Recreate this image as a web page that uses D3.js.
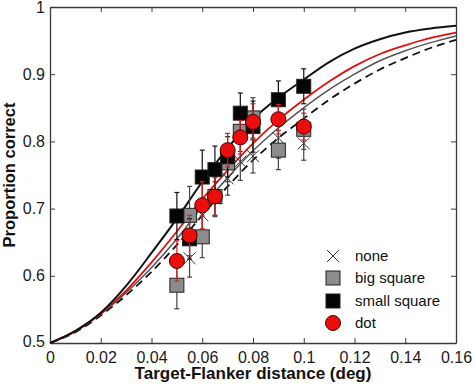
<!DOCTYPE html>
<html>
<head>
<meta charset="utf-8">
<script src="https://d3js.org/d3.v7.min.js"></script>
<style>
    body { margin: 0; background: #fff; }
    svg text { font-family: "Liberation Sans", Arial, sans-serif; }
    .tick text { font-size: 16px; fill: #1a1a1a; }
    .axtitle { font-size: 17px; font-weight: bold; fill: #111; }
    .legtext { font-size: 15px; fill: #111; }
</style>
</head>
<body>
<svg id="chart" width="474" height="387"></svg>
<script>
// distances (deg) where data were taken
var dist = [0.05, 0.055, 0.06, 0.065, 0.07, 0.075, 0.08, 0.09, 0.1];

// proportion correct per flanker type
var noneVals   = [null, 0.626, 0.690, 0.715, 0.745, 0.770, 0.778, 0.805, 0.797];
var bigVals    = [0.586, 0.690, 0.658, 0.718, 0.768, 0.815, 0.835, 0.787, 0.818];
var smallVals  = [0.689, 0.655, 0.747, 0.758, 0.777, 0.842, 0.822, 0.862, 0.882];
var dotVals    = [0.622, 0.660, 0.705, 0.718, 0.787, 0.806, 0.829, 0.833, 0.822];

// error bar half-lengths
var noneErr  = [0, 0.028, 0.025, 0.025, 0.025, 0.028, 0.025, 0.03, 0.025];
var bigErr   = [0.035, 0.043, 0.031, 0.03, 0.028, 0.03, 0.03, 0.029, 0.03];
var smallErr = [0.035, 0.03, 0.04, 0.035, 0.03, 0.03, 0.038, 0.028, 0.026];
var dotErr   = [0.03, 0.03, 0.035, 0.028, 0.025, 0.025, 0.027, 0.022, 0.02];

// fitted curves, sampled off the figure
var curveX     = [0, 0.01, 0.02, 0.03, 0.04, 0.05, 0.06, 0.07, 0.08, 0.09, 0.1, 0.11, 0.12, 0.13, 0.14, 0.15, 0.16];
var smallFit   = [0.5, 0.518, 0.545, 0.585, 0.634, 0.685, 0.740, 0.790, 0.833, 0.865, 0.892, 0.918, 0.938, 0.952, 0.962, 0.968, 0.972];
var dotFit     = [0.5, 0.518, 0.544, 0.578, 0.620, 0.666, 0.714, 0.757, 0.797, 0.832, 0.862, 0.889, 0.912, 0.930, 0.943, 0.954, 0.962];
var bigFit     = [0.5, 0.517, 0.543, 0.575, 0.612, 0.655, 0.703, 0.746, 0.786, 0.820, 0.850, 0.877, 0.900, 0.920, 0.935, 0.947, 0.957];
var noneFit    = [0.5, 0.516, 0.541, 0.571, 0.606, 0.646, 0.690, 0.733, 0.772, 0.805, 0.834, 0.862, 0.886, 0.907, 0.924, 0.939, 0.951];

var xTicks = [0, 0.02, 0.04, 0.06, 0.08, 0.1, 0.12, 0.14, 0.16];
var yTicks = [0.5, 0.6, 0.7, 0.8, 0.9, 1];
var legendLabels = ["none", "big square", "small square", "dot"];

var svg = d3.select("#chart");
var plotL = 50, plotR = 456, plotT = 7, plotB = 343;

var x = d3.scaleLinear().domain([0, 0.16]).range([plotL, plotR]);
var y = d3.scaleLinear().domain([0.5, 1]).range([plotB, plotT]);

var fmt = function(d) { return d === 0 ? "0" : d === 1 ? "1" : String(d); };
var axisCol = "#3a3a3a";

// axes with inward ticks
var gx = svg.append("g").attr("transform", "translate(0," + plotB + ")")
    .call(d3.axisBottom(x).tickValues(xTicks).tickSizeInner(-5).tickSizeOuter(0).tickPadding(8).tickFormat(fmt));
var gxt = svg.append("g").attr("transform", "translate(0," + plotT + ")")
    .call(d3.axisTop(x).tickValues(xTicks).tickSizeInner(-5).tickSizeOuter(0).tickFormat(""));
var gy = svg.append("g").attr("transform", "translate(" + plotL + ",0)")
    .call(d3.axisLeft(y).tickValues(yTicks).tickSizeInner(-5).tickSizeOuter(0).tickPadding(5).tickFormat(fmt));
var gyr = svg.append("g").attr("transform", "translate(" + plotR + ",0)")
    .call(d3.axisRight(y).tickValues(yTicks).tickSizeInner(-5).tickSizeOuter(0).tickFormat(""));
[gx, gxt, gy, gyr].forEach(function(g) {
    g.select(".domain").attr("stroke", axisCol).attr("stroke-width", 1.3);
    g.selectAll(".tick line").attr("stroke", axisCol);
});
gy.selectAll(".tick text").filter(function(d) { return d === 0.5; }).attr("dy", "0.2em");
gx.selectAll(".tick text").attr("dy", "0.72em");

// fitted curves
var line = d3.line().x(function(d) { return x(d[0]); }).y(function(d) { return y(d[1]); }).curve(d3.curveMonotoneX);
function fit(vals) { return curveX.map(function(v, i) { return [v, vals[i]]; }); }
var plot = svg.append("g");
plot.append("path").attr("d", line(fit(noneFit))).attr("fill", "none").attr("stroke", "#111").attr("stroke-width", 1.8).attr("stroke-dasharray", "8,5");
plot.append("path").attr("d", line(fit(bigFit))).attr("fill", "none").attr("stroke", "#555").attr("stroke-width", 1.5);
plot.append("path").attr("d", line(fit(dotFit))).attr("fill", "none").attr("stroke", "#e01010").attr("stroke-width", 1.8);
plot.append("path").attr("d", line(fit(smallFit))).attr("fill", "none").attr("stroke", "#111").attr("stroke-width", 2);

function errBars(vals, errs, col) {
    var data = dist.map(function(d, i) { return { x: d, v: vals[i], e: errs[i] }; }).filter(function(d) { return d.v != null; });
    var g = plot.append("g").attr("stroke", col).attr("stroke-width", 1.2);
    g.selectAll("line.v").data(data).enter().append("line")
        .attr("x1", function(d) { return x(d.x); }).attr("x2", function(d) { return x(d.x); })
        .attr("y1", function(d) { return y(d.v - d.e); }).attr("y2", function(d) { return y(d.v + d.e); });
    [-1, 1].forEach(function(s) {
        g.selectAll("line.c" + s).data(data).enter().append("line")
            .attr("x1", function(d) { return x(d.x) - 2.5; }).attr("x2", function(d) { return x(d.x) + 2.5; })
            .attr("y1", function(d) { return y(d.v + s * d.e); }).attr("y2", function(d) { return y(d.v + s * d.e); });
    });
    return data;
}

function cross(g, cx, cy, r) {
    g.append("path").attr("d", "M" + (cx - r) + "," + (cy - r) + "L" + (cx + r) + "," + (cy + r) + "M" + (cx - r) + "," + (cy + r) + "L" + (cx + r) + "," + (cy - r))
        .attr("stroke", "#333").attr("stroke-width", 1).attr("fill", "none");
}
function square(g, cx, cy, fill) {
    g.append("rect").attr("x", cx - 7).attr("y", cy - 7).attr("width", 14).attr("height", 14)
        .attr("fill", fill).attr("stroke", "#222").attr("stroke-width", 1);
}
function dot(g, cx, cy) {
    g.append("circle").attr("cx", cx).attr("cy", cy).attr("r", 7.5)
        .attr("fill", "#ee0d0d").attr("stroke", "#400").attr("stroke-width", 1);
}

var noneData = errBars(noneVals, noneErr, "#444");
var gN = plot.append("g");
noneData.forEach(function(d) { cross(gN, x(d.x), y(d.v), 6); });

var bigData = errBars(bigVals, bigErr, "#444");
var gB = plot.append("g");
bigData.forEach(function(d) { square(gB, x(d.x), y(d.v), "#8c8c8c"); });

var smallData = errBars(smallVals, smallErr, "#111");
var gS = plot.append("g");
smallData.forEach(function(d) { square(gS, x(d.x), y(d.v), "#050505"); });

var dotData = errBars(dotVals, dotErr, "#d02020");
var gD = plot.append("g");
dotData.forEach(function(d) { dot(gD, x(d.x), y(d.v)); });

// legend
var leg = svg.append("g");
var legY = [256, 278, 301, 323];
legendLabels.forEach(function(lab, i) {
    var cx = 333, cy = legY[i];
    if (i === 0) cross(leg, cx, cy, 6);
    if (i === 1) square(leg, cx, cy, "#8c8c8c");
    if (i === 2) square(leg, cx, cy, "#050505");
    if (i === 3) dot(leg, cx, cy);
    leg.append("text").attr("class", "legtext").attr("x", 355).attr("y", cy).attr("dy", "0.35em").text(lab);
});

// axis titles
svg.append("text").attr("class", "axtitle").attr("x", 253).attr("y", 379)
    .attr("text-anchor", "middle").text("Target-Flanker distance (deg)");
svg.append("text").attr("class", "axtitle").attr("transform", "translate(15,175) rotate(-90)")
    .attr("text-anchor", "middle").style("font-size", "16.5px").text("Proportion correct");
</script>
</body>
</html>
